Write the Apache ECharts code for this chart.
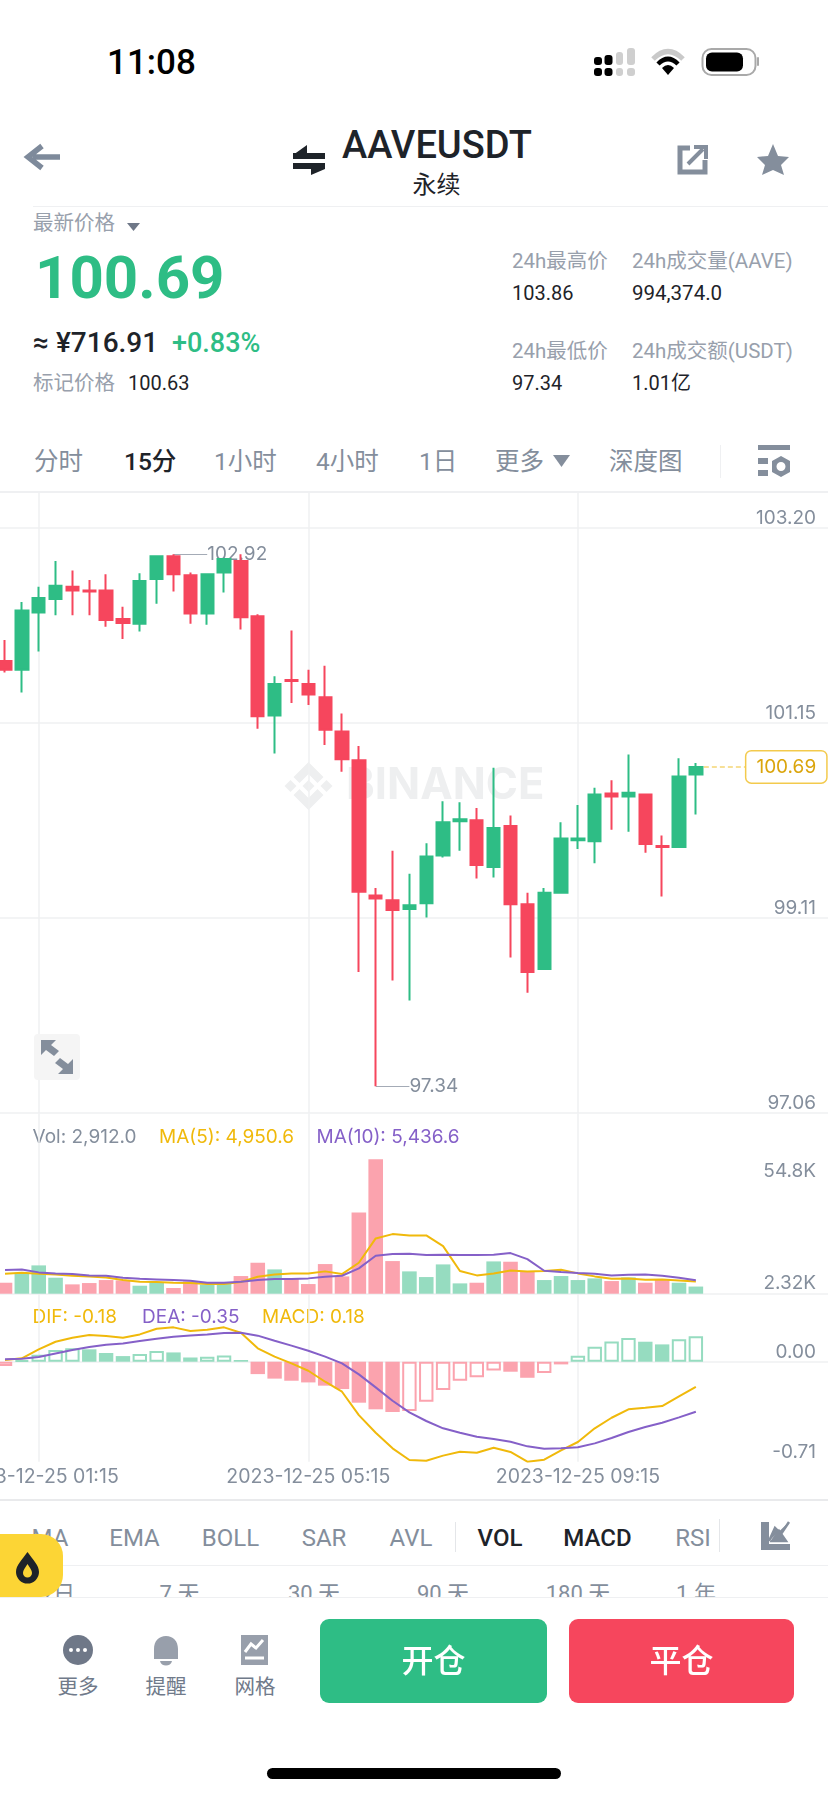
<!DOCTYPE html>
<html>
<head>
<meta charset="utf-8">
<title>AAVEUSDT</title>
<script src="https://cdn.jsdelivr.net/npm/echarts@6/dist/echarts.min.js"></script>
<style>
html,body{margin:0;padding:0;background:#fff;width:828px;height:1796px;overflow:hidden;font-family:Roboto,"Noto Sans CJK SC",sans-serif}
#page{position:absolute;left:0;top:0;width:828px;height:1796px;overflow:hidden}
#chart{position:absolute;left:0;top:490px;width:828px;height:1010px}
.t{position:absolute;white-space:nowrap;line-height:1;transform:translateY(-50%)}
.line{position:absolute;background:#eff0f2}
svg{position:absolute;overflow:visible}
</style>
</head>
<body>
<div id="page">
<div id="chart"></div>
<div class="line" style="left:0;top:491px;width:828px;height:1.5px"></div>
<div class="line" style="left:33px;top:205.5px;width:795px;height:1.5px"></div>
<div class="line" style="left:720px;top:445px;width:1px;height:33px"></div>
<div class="line" style="left:0;top:1499px;width:828px;height:2px;background:#e9eaec"></div>
<div class="line" style="left:0;top:1565px;width:828px;height:1px"></div>
<div class="line" style="left:455px;top:1522px;width:1px;height:30px;background:#e4e6e9"></div>
<div class="line" style="left:719px;top:1519px;width:1px;height:33px;background:#e4e6e9"></div>
<div id="foot" style="position:absolute;left:0;top:1597px;width:828px;height:199px;background:#fff;border-top:1px solid #eff0f2;box-sizing:border-box;z-index:2"></div>
<div style="position:absolute;left:0;top:1534px;width:63px;height:63px;background:#fcd535;border-radius:0 22px 22px 0;z-index:3"></div>
<div style="position:absolute;left:320px;top:1619px;width:227px;height:84px;background:#2ebd85;border-radius:9px;z-index:3"></div>
<div style="position:absolute;left:569px;top:1619px;width:225px;height:84px;background:#f6465d;border-radius:9px;z-index:3"></div>
<div style="position:absolute;left:267px;top:1768px;width:294px;height:11px;background:#000;border-radius:6px;z-index:3"></div>
<div style="position:absolute;left:34px;top:1034px;width:46px;height:46px;background:#f5f5f5;border-radius:4px"></div>

<svg width="828" height="1796" style="left:0;top:0;z-index:4;pointer-events:none">
  <!-- status bar -->
  <g fill="#000">
    <rect x="594" y="57" width="8" height="8" rx="3"/><rect x="604.5" y="55" width="8" height="10" rx="3"/>
    <rect x="594" y="68" width="8" height="8" rx="3"/><rect x="604.5" y="68" width="8" height="8" rx="3"/>
  </g>
  <g fill="#cfcfcf">
    <rect x="616" y="52" width="7" height="13" rx="3"/><rect x="627" y="48" width="8" height="17" rx="3"/>
    <rect x="616" y="68" width="7" height="8" rx="3"/><rect x="627" y="68" width="8" height="8" rx="3"/>
  </g>
  <path d="M653 59 Q668 44 683 59" fill="none" stroke="#c9c9c9" stroke-width="5"/>
  <path d="M658 64 Q668 54 678 64" fill="none" stroke="#000" stroke-width="4.5"/>
  <path d="M662 68 Q668 62 674 68 L668 75Z" fill="#000"/>
  <rect x="702.5" y="49" width="53" height="26" rx="9" fill="none" stroke="#a9a9a9" stroke-width="2"/>
  <rect x="706" y="52.5" width="37" height="19" rx="6" fill="#000"/>
  <rect x="757" y="57" width="2" height="9" rx="1" fill="#a9a9a9"/>
  <!-- header -->
  <path d="M60 157 H33 M42 146 L28 157 L42 168" fill="none" stroke="#7e8a9b" stroke-width="5.5"/>
  <path d="M293 155 L307 145 V155Z M293 153 H325 V159 H293Z M293 163 H325 V169 H293Z M325 169 L311 175 V169Z" fill="#1e2329"/>
  <path d="M690 148 H680 V172 H705 V160" fill="none" stroke="#848e9c" stroke-width="5"/>
  <path d="M688 164 L703 149 M694 147 H706 V159" fill="none" stroke="#848e9c" stroke-width="4"/>
  <path d="M773 144 L778 156 L789 157 L781 165 L784 175 L773 170 L762 175 L765 165 L757 157 L768 156Z" fill="#848e9c"/>
  <path d="M127 223 H140 L133.5 231Z" fill="#6f7888"/>
  <path d="M553 455 H570 L561.5 467Z" fill="#848e9c"/>
  <path d="M758 445 H790 V450 H758Z M758 458 H768 V464 H758Z M758 470 H768 V476 H758Z" fill="#848e9c"/>
  <path d="M781 456 L790 461 V472 L781 477 L772 472 V461Z M781 462 A4.5 4.5 0 1 0 781 471 A4.5 4.5 0 1 0 781 462Z" fill="#848e9c" fill-rule="evenodd"/>
  <!-- expand button -->
  <path d="M41 1040 H56 L51 1045 L59 1051 L54 1056 L46 1050 L41 1055Z M73 1074 H58 L63 1069 L55 1063 L60 1058 L68 1064 L73 1059Z" fill="#848e9c"/>
  <!-- indicator settings icon -->
  <path d="M764 1522 H769 V1544 H790 V1550 H761 V1522Z" fill="#848e9c"/>
  <path d="M769 1541 L775 1528 L781 1534 L789 1522 M772 1541 H786 L779 1531Z" fill="#848e9c" stroke="#848e9c" stroke-width="2.5"/>
  <!-- flame -->
  <path d="M27.5 1552 C33 1560 39 1565 39 1572 A11.5 11.5 0 0 1 16 1572 C16 1565 22 1560 27.5 1552Z M27.5 1564 C25 1568 23 1570 23 1573 A4.5 4.5 0 0 0 32 1573 C32 1570 30 1568 27.5 1564Z" fill="#1e2329" fill-rule="evenodd"/>
  <!-- footer icons -->
  <circle cx="78" cy="1650" r="15" fill="#6f7888"/>
  <g fill="#fff"><circle cx="71" cy="1650" r="2"/><circle cx="78" cy="1650" r="2"/><circle cx="85" cy="1650" r="2"/></g>
  <path d="M166 1636 C173 1636 178 1641 178 1649 V1659 H154 V1649 C154 1641 159 1636 166 1636Z M160 1661 H172 C171 1667 161 1667 160 1661Z" fill="#989fab"/>
  <path d="M241 1635 H268 V1665 H241Z" fill="#989fab"/>
  <path d="M245 1652 L251 1644 L256 1648 L263 1640 M245 1658 H264" fill="none" stroke="#fff" stroke-width="3"/>
</svg>
<script>
// candles, oldest first
var times = ['00:45','01:00','01:15','01:30','01:45','02:00','02:15','02:30','02:45','03:00','03:15','03:30','03:45','04:00','04:15','04:30','04:45','05:00','05:15','05:30','05:45','06:00','06:15','06:30','06:45','07:00','07:15','07:30','07:45','08:00','08:15','08:30','08:45','09:00','09:15','09:30','09:45','10:00','10:15','10:30','10:45','11:00','11:15','11:30','11:45','12:00','12:15','12:30','12:45','13:00'];
var opens = [101.80,101.71,102.31,102.45,102.58,102.54,102.54,102.24,102.19,102.66,102.90,102.70,102.30,102.73,102.85,102.27,101.23,101.60,101.56,101.42,101.06,100.76,99.34,99.29,99.20,99.26,99.76,100.12,100.13,99.64,100.07,99.25,98.57,99.37,99.92,99.91,100.41,100.38,100.40,99.86,99.85,100.61];
var closes = [101.71,102.33,102.46,102.59,102.54,102.53,102.23,102.20,102.64,102.90,102.71,102.30,102.71,102.87,102.26,101.22,101.56,101.59,101.45,101.08,100.77,99.38,99.31,99.19,99.24,99.75,100.11,100.14,99.66,100.05,99.25,98.54,99.37,99.94,99.94,100.40,100.38,100.42,99.88,99.85,100.59,100.69];
var lows = [101.68,101.47,101.90,102.28,102.28,102.28,102.16,102.03,102.11,102.40,102.53,102.19,102.18,102.52,102.13,101.09,100.83,101.36,101.34,100.92,100.64,98.54,97.34,98.45,98.24,99.11,99.74,99.81,99.52,99.53,98.69,98.32,98.57,99.37,99.83,99.68,100.03,100.01,99.79,99.33,99.85,100.19];
var highs = [102.02,102.42,102.58,102.85,102.75,102.65,102.71,102.37,102.72,102.90,102.92,102.73,102.71,102.87,102.92,102.29,101.64,102.12,101.71,101.75,101.25,100.91,99.42,99.81,99.57,99.89,100.33,100.32,100.26,100.68,100.18,99.37,99.42,100.11,100.29,100.47,100.55,100.82,100.40,99.97,100.78,100.73];
// volume pane
var volumes = [4470,8270,11530,6510,3800,4340,5560,5420,3250,4750,2320,5020,3660,4340,7190,12610,9900,6240,3930,12070,7050,33090,54800,13290,9090,6780,11930,4200,4470,13150,13020,9090,5560,7190,5560,6240,5150,6640,4470,5560,4470,2912];
var volMa5 = [8140,8540,8140,7860,7320,7050,6640,5560,4880,4750,4470,4340,3930,3930,4750,6920,7860,8270,8270,9090,8000,12610,22510,24270,23730,23730,19390,9220,7460,8270,9490,9090,9220,9760,8270,7050,6100,6240,5700,5830,5420,4950.6];
var volMa10 = [9630,9900,8680,8270,8000,7460,7320,6510,6100,5830,5560,5290,4470,4470,4880,5560,5970,5970,6240,6920,7320,10310,15460,16140,16270,15730,15870,15730,15730,15870,16540,14100,9360,8810,8410,8140,7460,7730,7860,7320,6510,5436.6];
// macd pane
var macdHist = [-0.03,0.01,0.05,0.083,0.095,0.088,0.062,0.04,0.054,0.076,0.066,0.03,0.036,0.045,0.012,-0.088,-0.12,-0.135,-0.147,-0.17,-0.194,-0.291,-0.338,-0.357,-0.35,-0.284,-0.201,-0.135,-0.111,-0.062,-0.071,-0.114,-0.08,-0.019,0.043,0.107,0.144,0.168,0.142,0.123,0.159,0.18];
var dif = [0.012,0.024,0.088,0.142,0.17,0.189,0.182,0.17,0.194,0.234,0.244,0.218,0.227,0.244,0.206,0.095,0.036,-0.012,-0.064,-0.142,-0.213,-0.379,-0.504,-0.615,-0.698,-0.703,-0.667,-0.639,-0.646,-0.611,-0.641,-0.71,-0.696,-0.63,-0.57,-0.473,-0.398,-0.338,-0.327,-0.315,-0.246,-0.178];
var dea = [0.017,0.021,0.033,0.059,0.083,0.104,0.121,0.13,0.147,0.163,0.178,0.187,0.194,0.204,0.206,0.185,0.149,0.114,0.078,0.036,-0.012,-0.09,-0.182,-0.277,-0.36,-0.421,-0.473,-0.504,-0.533,-0.549,-0.568,-0.601,-0.618,-0.615,-0.608,-0.58,-0.542,-0.499,-0.464,-0.433,-0.395,-0.355];
// axis ticks
var priceTicks = [97.06,99.11,101.15,103.20];
var volTicks = [2320,54800];
var macdTicks = [-0.71,0];
var timeTickIdx = [2,18,34];
var lastPrice = 100.69, highIdx = 10, lowIdx = 22;

var green = '#2ebd85', red = '#f6465d', greenSoft = '#96dcc0', redSoft = '#fba3ae';
var gold = '#f0b90b', purple = '#8560c8', grey = '#848e9c', gridCol = '#eff0f2';
var axisFont = 'Inter, Roboto, sans-serif', axisSize = 19;

// chrome text
function txt(x, cy, s, size, color, weight, center, parentZ) {
  var d = document.createElement('div');
  d.className = 't';
  d.textContent = s;
  d.style.cssText = 'left:' + x + 'px;top:' + cy + 'px;font-size:' + size + 'px;color:' + color + ';font-weight:' + (weight || 400) + ';z-index:' + (parentZ || 1) + ';' + (center ? 'transform:translate(-50%,-50%);' : '');
  document.getElementById('page').appendChild(d);
}
var dark = '#1e2329', mut = '#98a0ac', tab = '#848e9c';
txt(107, 62, '11:08', 35, '#000', 500);
txt(342, 145, 'AAVEUSDT', 38, dark, 500);
txt(436.5, 185, '永续', 24, dark, 400, true);
txt(33, 223, '最新价格', 20.5, mut);
txt(35, 278, '100.69', 60, green, 700);
txt(33, 343, '≈ ¥716.91', 28, dark, 500);
txt(172, 343, '+0.83%', 27, green, 500);
txt(33, 383, '标记价格', 20.5, mut);
txt(128, 383, '100.63', 20, dark);
txt(512, 261, '24h最高价', 20.5, mut);
txt(632, 261, '24h成交量(AAVE)', 20.5, mut);
txt(512, 293, '103.86', 20, dark);
txt(632, 293, '994,374.0', 20.5, dark);
txt(512, 351, '24h最低价', 20.5, mut);
txt(632, 351, '24h成交额(USDT)', 20.5, mut);
txt(512, 383, '97.34', 20, dark);
txt(632, 383, '1.01亿', 20, dark);
txt(34, 462, '分时', 24.5, tab);
txt(124, 462, '15分', 24.5, dark, 500);
txt(214, 462, '1小时', 24.5, tab);
txt(316, 462, '4小时', 24.5, tab);
txt(419, 462, '1日', 24.5, tab);
txt(495, 462, '更多', 24.5, tab);
txt(609, 462, '深度图', 24.5, tab);
txt(50, 1538, 'MA', 24, tab, 400, true);
txt(134.5, 1538, 'EMA', 24, tab, 400, true);
txt(230.5, 1538, 'BOLL', 24, tab, 400, true);
txt(324, 1538, 'SAR', 24, tab, 400, true);
txt(411, 1538, 'AVL', 24, tab, 400, true);
txt(500, 1538, 'VOL', 24, dark, 500, true);
txt(597.5, 1538, 'MACD', 24, dark, 500, true);
txt(693, 1538, 'RSI', 24, tab, 400, true);
txt(53, 1594, '今日', 22, tab, 400, true);
txt(179.5, 1594, '7 天', 22, tab, 400, true);
txt(314, 1594, '30 天', 22, tab, 400, true);
txt(443, 1594, '90 天', 22, tab, 400, true);
txt(578, 1594, '180 天', 22, tab, 400, true);
txt(696, 1594, '1 年', 22, tab, 400, true);
txt(78, 1687, '更多', 20.5, '#707a8a', 400, true, 3);
txt(166, 1687, '提醒', 20.5, '#707a8a', 400, true, 3);
txt(255, 1687, '网格', 20.5, '#707a8a', 400, true, 3);
txt(433.5, 1661, '开仓', 32, '#fff', 500, true, 4);
txt(681.5, 1661, '平仓', 32, '#fff', 500, true, 4);

var chart = echarts.init(document.getElementById('chart'), null, {renderer: 'canvas'});

var timeLines = timeTickIdx.map(function (i) { return {xAxis: i}; });
function gridMark() {
  return {silent: true, symbol: 'none', z: 1, label: {show: false}, lineStyle: {color: gridCol, width: 1.5, type: 'solid'}, data: timeLines.slice()};
}
function tagLine(idx, val, endIdx) {
  return [{coord: [idx, val], lineStyle: {color: '#a4abb6', width: 1, type: 'solid'},
           label: {show: true, position: 'end', distance: 0, formatter: val.toFixed(2), color: grey, fontSize: axisSize, fontFamily: axisFont}},
          {coord: [endIdx, val]}];
}
var mainMark = gridMark();
mainMark.data.push(tagLine(highIdx, highs[highIdx], highIdx + 2));
mainMark.data.push(tagLine(lowIdx, lows[lowIdx], lowIdx + 2));
mainMark.data.push([{coord: [41, lastPrice], lineStyle: {color: '#f5d676', width: 1.5, type: [5, 3]},
  label: {show: true, position: 'end', distance: 0, formatter: lastPrice.toFixed(2), color: '#dba50c', fontSize: axisSize, fontFamily: axisFont,
          backgroundColor: '#fff', borderColor: '#f3ca4d', borderWidth: 1.5, borderRadius: 5, padding: [6, 10, 6, 10]}},
  {coord: [44, lastPrice]}]);

var candleData = opens.map(function (o, i) { return [o, closes[i], lows[i], highs[i]]; });
var volBars = volumes.map(function (v, i) {
  return {value: v, itemStyle: {color: closes[i] >= opens[i] ? greenSoft : redSoft}};
});
// hollow while the histogram is rising, solid while it falls
var macdBars = macdHist.map(function (v, i) {
  var col = v >= 0 ? greenSoft : redSoft;
  var hollow = i === 0 || v >= macdHist[i - 1];
  return {value: v, itemStyle: hollow ? {color: '#fff', borderColor: col, borderWidth: 2} : {color: col}};
});

function xAxis(grid, withLabels) {
  return {
    type: 'category', gridIndex: grid, data: times, boundaryGap: true,
    axisLine: {show: grid > 0, lineStyle: {color: gridCol, width: 1.5}}, axisTick: {show: false}, splitLine: {show: false},
    axisLabel: {show: !!withLabels, color: grey, fontSize: 19.5, fontFamily: axisFont, margin: 5,
      interval: function (i) { return timeTickIdx.indexOf(i) >= 0; },
      formatter: function (v) { return '2023-12-25 ' + v; }}
  };
}
function yAxis(grid, min, max, ticks, fmt, split, vAlign) {
  var lbl = {color: grey, fontSize: axisSize, fontFamily: axisFont};
  return {
    type: 'value', gridIndex: grid, position: 'right', min: min, max: max, scale: true,
    axisLine: {show: false},
    axisTick: {show: false, customValues: ticks},
    splitLine: {show: !!split, lineStyle: {color: gridCol, width: 1.5}},
    axisLabel: {inside: true, margin: 23, customValues: ticks, color: grey, fontSize: axisSize, fontFamily: axisFont, align: 'right', verticalAlign: vAlign || 'bottom', lineHeight: 19, formatter: fmt,
      rich: {dn: Object.assign({padding: [24, 0, 0, 0]}, lbl), up: Object.assign({padding: [0, 0, 10, 0]}, lbl)}}
  };
}
function legend(x, y, s, col) {
  return {type: 'text', x: x, y: y, silent: true, style: {text: s, fill: col, font: axisSize + 'px ' + axisFont, verticalAlign: 'middle'}};
}
// watermark logo, x and y are the corner of its 50px box
function logoPart(pts) {
  return {type: 'polygon', x: 283.5, y: 271, silent: true, z: 0, shape: {points: pts}, style: {fill: '#eeeff0'}};
}
// the band width is fixed: axis labels run past the canvas, do not let the grid shrink for them
function pane(top, height) {
  return {left: -3.42, top: top, width: 842.5, height: height, containLabel: false, outerBoundsMode: 'none'};
}

chart.setOption({
  animation: false,
  backgroundColor: 'transparent',
  grid: [pane(2, 621), pane(623.5, 180.2), pane(803.7, 168)],
  xAxis: [xAxis(0), xAxis(1), xAxis(2, true)],
  yAxis: [
    yAxis(0, 97.06, 103.573, priceTicks, function (v) { return v.toFixed(2); }, true),
    yAxis(1, 0, 73390, volTicks, function (v) { return v > 10000 ? '{dn|' + (v / 1000).toFixed(1) + 'K}' : '{up|' + (v / 1000).toFixed(2) + 'K}'; }, false, 'middle'),
    yAxis(2, -0.71, 0.483, macdTicks, function (v) { return v.toFixed(2); })
  ],
  graphic: [
    logoPart([[25,19],[31,25],[25,31],[19,25]]),
    logoPart([[1,25],[7,19],[13,25],[7,31]]),
    logoPart([[37,25],[43,19],[49,25],[43,31]]),
    logoPart([[25,1],[40,16],[34,22],[25,13],[16,22],[10,16]]),
    logoPart([[25,49],[40,34],[34,28],[25,37],[16,28],[10,34]]),
    {type: 'text', x: 346, y: 296, silent: true, z: 0, style: {text: 'BINANCE', fill: '#eeeff0', font: '700 43.5px Inter, sans-serif', verticalAlign: 'middle'}},
    legend(32.5, 647.5, 'Vol: 2,912.0', grey),
    legend(159, 647.5, 'MA(5): 4,950.6', gold),
    legend(316.5, 647.5, 'MA(10): 5,436.6', purple),
    legend(32.5, 827, 'DIF: -0.18', gold),
    legend(142, 827, 'DEA: -0.35', purple),
    legend(262, 827, 'MACD: 0.18', gold)
  ],
  series: [
    {type: 'candlestick', xAxisIndex: 0, yAxisIndex: 0, data: candleData, barWidth: 12.8,
     itemStyle: {color: green, color0: red, borderColor: green, borderColor0: red, borderWidth: 2},
     markLine: mainMark},
    {type: 'bar', xAxisIndex: 1, yAxisIndex: 1, data: volBars, barWidth: 14.6, markLine: gridMark()},
    {type: 'line', xAxisIndex: 1, yAxisIndex: 1, data: volMa5, showSymbol: false, lineStyle: {color: gold, width: 2}, z: 3},
    {type: 'line', xAxisIndex: 1, yAxisIndex: 1, data: volMa10, showSymbol: false, lineStyle: {color: purple, width: 2}, z: 4},
    {type: 'bar', xAxisIndex: 2, yAxisIndex: 2, data: macdBars, barWidth: 14.4, markLine: gridMark()},
    {type: 'line', xAxisIndex: 2, yAxisIndex: 2, data: dif, showSymbol: false, lineStyle: {color: gold, width: 2}, z: 3},
    {type: 'line', xAxisIndex: 2, yAxisIndex: 2, data: dea, showSymbol: false, lineStyle: {color: purple, width: 2}, z: 4}
  ]
});
</script>
</div>
</body>
</html>
